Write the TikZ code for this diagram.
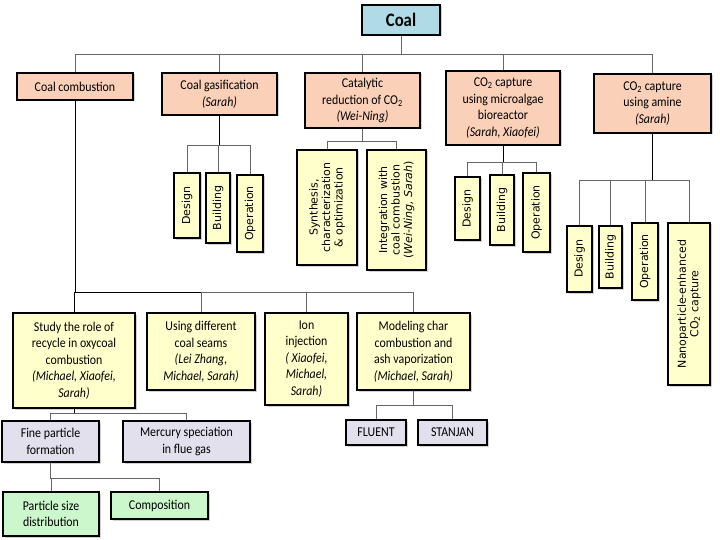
\documentclass[tikz,border=0pt]{standalone}
\usepackage{fontspec}
\setmainfont{Carlito}[FakeStretch=0.88]
\newfontfamily\vfont{DejaVu Sans}
\usetikzlibrary{shadows}
\definecolor{cblue}{RGB}{176,219,230}
\definecolor{corange}{RGB}{250,208,184}
\definecolor{cyellow}{RGB}{255,255,204}
\definecolor{clav}{RGB}{226,224,236}
\definecolor{cgreen}{RGB}{204,246,204}
\begin{document}
\begin{tikzpicture}[x=1pt,y=-1pt,
  box/.style={draw=black,line width=1.3pt,align=center,inner sep=1pt,
    font=\fontsize{13.5}{16.5}\selectfont,
    drop shadow={shadow xshift=1.5pt,shadow yshift=-1.5pt,fill=gray!70}},
  ob/.style={box,fill=corange},
  yb/.style={box,fill=cyellow},
  lb/.style={box,fill=clav},
  gb/.style={box,fill=cgreen},
  vb/.style={box,fill=cyellow,rotate=90,font=\vfont\fontsize{11}{12.5}\selectfont},
  conn/.style={draw=gray!80!black,line width=0.6pt},
  trunk/.style={draw=black,line width=1pt}]
\useasboundingbox (0,0) rectangle (720,540);
\node[box,fill=cblue,minimum width=78,minimum height=30,font=\bfseries\fontsize{19}{20}\selectfont] (coal) at (401,20) {Coal};
\node[ob,minimum width=116,minimum height=27] (cc) at (75,86.5) {Coal combustion};
\node[ob,minimum width=115,minimum height=42] (cg) at (219.5,94) {Coal gasification\\\textit{(Sarah)}};
\node[ob,minimum width=115,minimum height=55] (cr) at (362.5,100.5) {Catalytic\\reduction of CO\textsubscript{2}\\\textit{(Wei-Ning)}};
\node[ob,minimum width=114,minimum height=74] (cm) at (503,108) {CO\textsubscript{2} capture\\using microalgae\\bioreactor\\\textit{(Sarah, Xiaofei)}};
\node[ob,minimum width=117,minimum height=59] (ca) at (652.5,103.5) {CO\textsubscript{2} capture\\using amine\\\textit{(Sarah)}};
\coordinate (b1) at (0,54);
\draw[conn] (coal.south) -- (coal.south |- b1);
\draw[conn] (cc.north) |- (ca.north |- b1) -- (ca.north);
\foreach \n in {cg,cr,cm} \draw[conn] (\n.north) -- (\n.north |- b1);
% gasification
\node[vb,minimum width=65,minimum height=26] (g1) at (187,205.5) {Design};
\node[vb,minimum width=70,minimum height=24] (g2) at (218,208) {Building};
\node[vb,minimum width=77,minimum height=26] (g3) at (250,213.5) {Operation};
\draw[trunk] (cg.south) -- (cg.south |- 0,145);
\draw[conn] (g1.east) |- (g3.east |- 0,145) -- (g3.east);
\draw[conn] (g2.east) -- (g2.east |- 0,145);
% catalytic
\node[vb,minimum width=115,minimum height=60] (r1) at (327,207.5) {Synthesis,\\characterization\\\& optimization};
\node[vb,minimum width=120,minimum height=59] (r2) at (396.5,210) {Integration with\\coal combustion\\(\textit{Wei-Ning, Sarah})};
\draw[conn] (cr.south) -- (cr.south |- 0,141);
\draw[conn] (r1.east) |- (r2.east |- 0,141) -- (r2.east);
% microalgae
\node[vb,minimum width=63,minimum height=25] (m1) at (467.5,208.5) {Design};
\node[vb,minimum width=70,minimum height=24] (m2) at (502,210) {Building};
\node[vb,minimum width=79,minimum height=27] (m3) at (536.5,212.5) {Operation};
\draw[trunk] (cm.south) -- (cm.south |- 0,162);
\draw[conn] (m1.east) |- (m3.east |- 0,162) -- (m3.east);
\draw[conn] (m2.east) -- (m2.east |- 0,162);
% amine
\node[vb,minimum width=66,minimum height=25] (a1) at (579.5,259) {Design};
\node[vb,minimum width=62,minimum height=23] (a2) at (610.5,257) {Building};
\node[vb,minimum width=77,minimum height=26] (a3) at (645,261.5) {Operation};
\node[vb,minimum width=162,minimum height=42] (a4) at (689,304) {Nanoparticle-enhanced\\CO\textsubscript{2} capture};
\draw[trunk] (ca.south) -- (ca.south |- 0,180);
\draw[conn] (a1.east) |- (a4.east |- 0,180) -- (a4.east);
\draw[conn] (a2.east) -- (a2.east |- 0,180);
\draw[conn] (a3.east) -- (a3.east |- 0,180);
% combustion children
\node[yb,minimum width=122,minimum height=95] (s1) at (74,360.5) {Study the role of\\recycle in oxycoal\\combustion\\\textit{(Michael, Xiaofei,}\\\textit{Sarah)}};
\node[yb,minimum width=108,minimum height=77] (s2) at (201,351.5) {Using different\\coal seams\\\textit{(Lei Zhang,}\\\textit{Michael, Sarah)}};
\node[yb,minimum width=83,minimum height=92] (s3) at (306.5,359) {Ion\\injection\\\textit{( Xiaofei,}\\\textit{Michael,}\\\textit{Sarah)}};
\node[yb,minimum width=113,minimum height=77] (s4) at (413.5,351.5) {Modeling char\\combustion and\\ash vaporization\\\textit{(Michael, Sarah)}};
\draw[trunk] (cc.south) |- (s1.north |- 0,292) -- (s1.north);
\draw[trunk] (s1.north |- 0,292) -- (s2.north |- 0,292);
\draw[conn] (s2.north |- 0,292) -| (s4.north);
\draw[conn] (s2.north) -- (s2.north |- 0,292);
\draw[conn] (s3.north) -- (s3.north |- 0,292);
% study children
\node[lb,minimum width=97,minimum height=41] (f1) at (50.5,441.5) {Fine particle\\formation};
\node[lb,minimum width=127,minimum height=41] (f2) at (186.5,441.5) {Mercury speciation\\in flue gas};
\draw[trunk] (s1.south) -- (s1.south |- 0,413);
\draw[conn] (f1.north) |- (f2.north |- 0,413) -- (f2.north);
% fine children
\node[gb,minimum width=96,minimum height=44] (p1) at (51,514) {Particle size\\distribution};
\node[gb,minimum width=97,minimum height=27] (p2) at (159.5,505.5) {Composition};
\draw[conn] (f1.south) |- (p2.north |- 0,478) -- (p2.north);
\draw[conn] (p1.north) -- (p1.north |- 0,478);
% modeling children
\node[lb,minimum width=60,minimum height=25] (t1) at (376,432.5) {FLUENT};
\node[lb,minimum width=69,minimum height=25] (t2) at (452.5,432.5) {STANJAN};
\draw[conn] (s4.south) -- (s4.south |- 0,405);
\draw[conn] (t1.north) |- (t2.north |- 0,405) -- (t2.north);
\end{tikzpicture}
\end{document}
